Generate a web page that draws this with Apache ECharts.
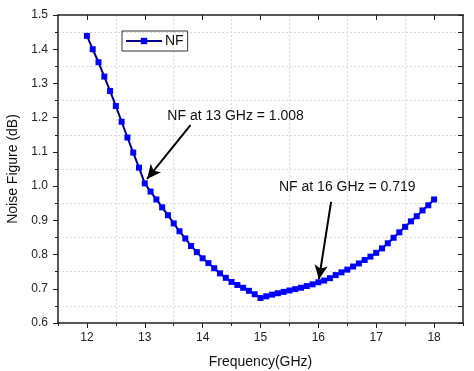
<!DOCTYPE html>
<html><head><meta charset="utf-8">
<script src="https://cdn.jsdelivr.net/npm/echarts@6/dist/echarts.min.js"></script>
<style>html,body{margin:0;background:#fff}#c{width:474px;height:371px}</style>
</head><body><div id="c"></div>
<script>
const freqGHz = [12.0,12.1,12.2,12.3,12.4,12.5,12.6,12.7,12.8,12.9,
  13.0,13.1,13.2,13.3,13.4,13.5,13.6,13.7,13.8,13.9,
  14.0,14.1,14.2,14.3,14.4,14.5,14.6,14.7,14.8,14.9,
  15.0,15.1,15.2,15.3,15.4,15.5,15.6,15.7,15.8,15.9,
  16.0,16.1,16.2,16.3,16.4,16.5,16.6,16.7,16.8,16.9,
  17.0,17.1,17.2,17.3,17.4,17.5,17.6,17.7,17.8,17.9,18.0];
const nfDB = [1.439,1.400,1.362,1.320,1.278,1.234,1.188,1.142,1.098,1.054,
  1.008,0.984,0.961,0.938,0.915,0.891,0.868,0.847,0.825,0.807,
  0.789,0.775,0.760,0.745,0.732,0.720,0.711,0.703,0.694,0.684,
  0.673,0.678,0.683,0.687,0.691,0.695,0.699,0.703,0.708,0.713,
  0.719,0.724,0.731,0.740,0.748,0.756,0.765,0.774,0.784,0.794,
  0.805,0.818,0.833,0.849,0.865,0.881,0.897,0.912,0.929,0.944,0.961];
const xTickLabels = [12,13,14,15,16,17,18];
const seriesName = 'NF';
const notes = ['NF at 13 GHz = 1.008', 'NF at 16 GHz = 0.719'];

const FONT = 'Liberation Sans, Arial, sans-serif';
const gridLine = {show:true, lineStyle:{color:'#dcdcdc', type:[2,2], width:1}};
const chart = echarts.init(document.getElementById('c'));
chart.setOption({
  animation:false,
  backgroundColor:'#fff',
  textStyle:{fontFamily:FONT},
  grid:{left:58, right:11, top:15, bottom:48, containLabel:false, outerBoundsMode:'none'},
  legend:{
    left:122, top:31, itemWidth:36, itemHeight:8, itemGap:4,
    padding:[3,4,3,3], borderColor:'#333', borderWidth:1,
    textStyle:{fontSize:14, color:'#111', fontFamily:FONT, padding:[0,0,0,-2]},
    data:[seriesName]
  },
  xAxis:[
    {type:'value', min:11.5, max:18.5, position:'bottom',
     name:'Frequency(GHz)', nameLocation:'middle', nameGap:32,
     nameTextStyle:{fontSize:14, color:'#111', fontFamily:FONT},
     axisLine:{show:true, onZero:false, lineStyle:{color:'#222', width:1.5}},
     axisTick:{show:true, inside:false, length:5, customValues:xTickLabels, lineStyle:{color:'#222'}},
     axisLabel:{show:true, customValues:xTickLabels, fontSize:12, color:'#222', margin:9, fontFamily:FONT},
     splitLine:{show:false}},
    {type:'value', min:11.5, max:18.5, interval:1, position:'bottom',
     axisLine:{show:false, onZero:false},
     axisTick:{show:true, inside:false, length:3, lineStyle:{color:'#222'}},
     axisLabel:{show:false},
     splitLine:gridLine},
    {type:'value', min:11.5, max:18.5, position:'top',
     axisLine:{show:true, onZero:false, lineStyle:{color:'#222', width:1.5}},
     axisTick:{show:true, inside:true, length:5, customValues:xTickLabels, lineStyle:{color:'#222'}},
     axisLabel:{show:false}, splitLine:{show:false}}
  ],
  yAxis:[
    {type:'value', min:0.6, max:1.5, interval:0.1, position:'left',
     name:'Noise Figure (dB)', nameLocation:'middle', nameGap:31,
     nameTextStyle:{fontSize:14, color:'#111', fontFamily:FONT},
     axisLine:{show:true, onZero:false, lineStyle:{color:'#222', width:1.5}},
     axisTick:{show:true, inside:false, length:5, lineStyle:{color:'#222'}},
     minorTick:{show:true, splitNumber:2, length:3, lineStyle:{color:'#222'}},
     axisLabel:{fontSize:12, color:'#222', margin:10, fontFamily:FONT, formatter:v=>v.toFixed(1)},
     splitLine:{show:false},
     minorSplitLine:gridLine},
    {type:'value', min:0.6, max:1.5, interval:0.05, position:'right',
     axisLine:{show:true, onZero:false, lineStyle:{color:'#222', width:1.5}},
     axisTick:{show:true, inside:true, length:5, lineStyle:{color:'#222'}},
     axisLabel:{show:false}, splitLine:{show:false}}
  ],
  series:[{
    name:seriesName, type:'line', xAxisIndex:0, yAxisIndex:0,
    data:freqGHz.map((f,i)=>[f, nfDB[i]]),
    symbol:'rect', symbolSize:6, showAllSymbol:true,
    itemStyle:{color:'#0000ff'},
    lineStyle:{color:'#00008b', width:2},
    markLine:{
      silent:true, symbol:['none','arrow'], symbolSize:[10,14],
      label:{show:false},
      lineStyle:{color:'#000', width:2, type:'solid'},
      data:[
        [{coord:[13.79,1.178]},{coord:[13.04,1.021]}],
        [{coord:[16.22,0.954]},{coord:[16.01,0.728]}]
      ]
    },
    markPoint:{
      silent:true, symbol:'circle', symbolSize:1,
      itemStyle:{color:'rgba(0,0,0,0)'},
      label:{show:true, position:'inside', fontSize:14, color:'#111', fontFamily:FONT,
             formatter:p=>p.name},
      data:[
        {name:notes[0], coord:[14.57,1.205]},
        {name:notes[1], coord:[16.5,0.997]}
      ]
    }
  }]
});
</script>
</body></html>
